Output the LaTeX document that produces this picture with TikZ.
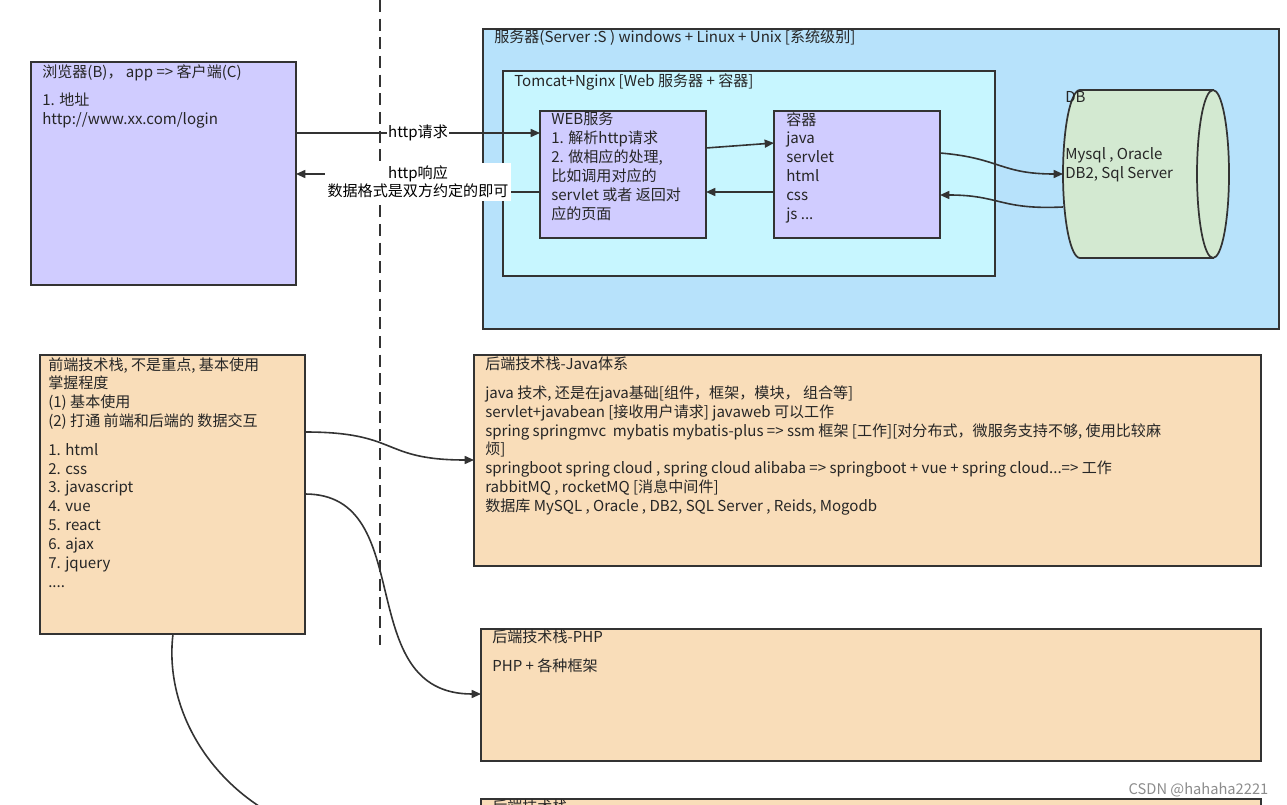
\documentclass[tikz,border=0pt]{standalone}
\usepackage{fontspec}
\setmainfont{Noto Sans CJK SC}
\usetikzlibrary{arrows.meta}
\definecolor{lav}{HTML}{D0CCFF}
\definecolor{sky}{HTML}{B7E2FB}
\definecolor{cyn}{HTML}{C7F6FF}
\definecolor{peach}{HTML}{F9DDB9}
\definecolor{grn}{HTML}{D3E9D1}
\definecolor{edge}{HTML}{333333}
\begin{document}
\begin{tikzpicture}[x=0.75pt,y=-0.75pt,
  box/.style={draw=edge,line width=1.3pt},
  txt/.style={anchor=north west,align=left,font=\fontsize{11.3}{14.2}\selectfont,inner sep=0pt,text=black!85},
  arr/.style={draw=edge,line width=1.2pt,-{Triangle[length=7pt,width=6pt]}}]
\useasboundingbox (0,0) rectangle (1287,805);
\begin{scope}
\clip (0,0) rectangle (1287,805);
\draw[edge,line width=1.2pt,dash pattern=on 9pt off 5pt] (380,0) -- (380,645);
% client
\path[box,fill=lav] (31,62) rectangle (296,285);
\node[txt] (client) at (42,64) {浏览器(B)，\ app => 客户端(C)\\[7pt]1. 地址\\http://www.xx.com/login};
\coordinate (cR1) at (296,133);
\coordinate (cR2) at (296,174);
% server
\path[box,fill=sky] (483,29) rectangle (1279,329);
\node[txt] (server) at (494,30) {服务器(Server :S ) windows + Linux + Unix [系统级别]};
\path[box,fill=cyn] (503,71) rectangle (995,276);
\node[txt] (tomcat) at (514,73) {Tomcat+Nginx [Web 服务器 + 容器]};
\path[box,fill=lav] (540,111) rectangle (706,238);
\node[txt] (web) at (551,112) {WEB服务\\1. 解析http请求\\2. 做相应的处理,\\比如调用对应的\\servlet 或者 返回对\\应的页面};
\path[box,fill=lav] (774,111) rectangle (940,238);
\node[txt] (cont) at (786,112) {容器\\java\\servlet\\html\\css\\js ...};
% DB cylinder
\path[box,fill=grn] (1213,90) -- (1080,90) arc[start angle=90,end angle=270,x radius=12.75pt,y radius=63pt] -- (1213,258) -- cycle;
\path[box,fill=grn] (1213,174) ellipse[x radius=12pt,y radius=63pt];
\node[txt] (db) at (1065,91) {DB};
\node[txt] (dbt) at (1065,147) {Mysql , Oracle\\DB2, Sql Server};
% arrows top
\draw[arr] (cR1) -- node[fill=white,inner sep=1pt,font=\fontsize{11.3}{13}\selectfont] {http请求} (540,133);
\draw[arr] (540,192) -- (500,192) |- (330,174) -- (cR2);
\node[fill=white,align=center,inner sep=2pt,font=\fontsize{11.3}{13.5}\selectfont] (resp) at (418,182) {http响应\\数据格式是双方约定的即可};
\draw[arr] (706,148) -- (774,143);
\draw[arr] (774,192) -- (706,192);
\draw[arr] (940,153) .. controls (1000,158) and (1000,174) .. (1063,174);
\draw[arr] (1063,207) .. controls (1000,210) and (1000,195) .. (940,195);
% frontend
\path[box,fill=peach] (40,355) rectangle (305,634);
\node[txt] (front) at (48,357) {前端技术栈, 不是重点, 基本使用\\掌握程度\\(1) 基本使用\\(2) 打通 前端和后端的 数据交互\\[7pt]1. html\\2. css\\3. javascript\\4. vue\\5. react\\6. ajax\\7. jquery\\....};
% java
\path[box,fill=peach] (474,355) rectangle (1261,566);
\node[txt] (java) at (485,357) {后端技术栈-Java体系\\[7pt]java 技术, 还是在java基础[组件，框架，模块， 组合等]\\servlet+javabean [接收用户请求] javaweb 可以工作\\spring springmvc\ \ mybatis mybatis-plus => ssm 框架 [工作][对分布式，微服务支持不够, 使用比较麻\\烦]\\springboot spring cloud , spring cloud alibaba => springboot + vue + spring cloud...=> 工作\\rabbitMQ , rocketMQ [消息中间件]\\数据库 MySQL , Oracle , DB2, SQL Server , Reids, Mogodb};
% php
\path[box,fill=peach] (481,629) rectangle (1261,761);
\node[txt] (php) at (492,630) {后端技术栈-PHP\\[7pt]PHP + 各种框架};
% bottom box
\path[box,fill=peach] (481,799) rectangle (1261,900);
\node[txt] (bot) at (492,800) {后端技术栈-...};
\draw[arr] (305,432) .. controls (400,432) and (380,460) .. (474,460);
\draw[arr] (305,494) .. controls (420,494) and (350,694) .. (481,694);
\draw[draw=edge,line width=1.2pt] (173,634) .. controls (165,700) and (200,770) .. (265,810);
\node[anchor=east,text=black!45,font=\fontsize{11}{13}\selectfont] (wm) at (1273,790) {CSDN @hahaha2221};
\end{scope}
\end{tikzpicture}
\end{document}
